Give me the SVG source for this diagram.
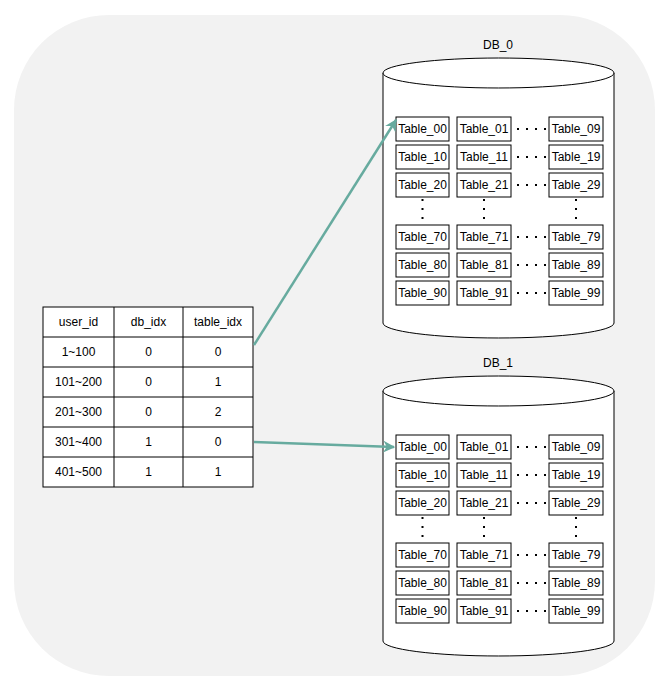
<svg xmlns="http://www.w3.org/2000/svg" width="668" height="691" viewBox="0 0 668 691">
<style>
text{font-family:"Liberation Sans",Arial,Helvetica,sans-serif;font-size:12px;fill:#000;text-anchor:middle;dominant-baseline:central}
.tb rect{fill:#fff;stroke:#000;stroke-width:1}
.tb text{font-size:12px}
.cyl{fill:#fff;stroke:#000;stroke-width:1}
.dot{stroke:#000;stroke-width:2;stroke-dasharray:2 7;fill:none}
.grid line{stroke:#000;stroke-width:1}
.conn{stroke:#67AB9F;stroke-width:2.5;fill:none;marker-end:url(#arr)}
</style>
<defs>
<marker id="arr" viewBox="0 0 10 10" refX="9" refY="5" markerWidth="12" markerHeight="12" markerUnits="userSpaceOnUse" orient="auto">
<path d="M0,0 L10,5 L0,10 L3,5 Z" fill="#67AB9F"/>
</marker>
<g id="tables">
<g class="tb">
<rect x="396" y="117" width="53" height="24"/><text x="422.5" y="129">Table_00</text>
<rect x="457" y="117" width="54" height="24"/><text x="484" y="129">Table_01</text>
<rect x="549" y="117" width="54" height="24"/><text x="576" y="129">Table_09</text>
<rect x="396" y="145" width="53" height="24"/><text x="422.5" y="157">Table_10</text>
<rect x="457" y="145" width="54" height="24"/><text x="484" y="157">Table_11</text>
<rect x="549" y="145" width="54" height="24"/><text x="576" y="157">Table_19</text>
<rect x="396" y="173" width="53" height="24"/><text x="422.5" y="185">Table_20</text>
<rect x="457" y="173" width="54" height="24"/><text x="484" y="185">Table_21</text>
<rect x="549" y="173" width="54" height="24"/><text x="576" y="185">Table_29</text>
<rect x="396" y="225" width="53" height="24"/><text x="422.5" y="237">Table_70</text>
<rect x="457" y="225" width="54" height="24"/><text x="484" y="237">Table_71</text>
<rect x="549" y="225" width="54" height="24"/><text x="576" y="237">Table_79</text>
<rect x="396" y="253" width="53" height="24"/><text x="422.5" y="265">Table_80</text>
<rect x="457" y="253" width="54" height="24"/><text x="484" y="265">Table_81</text>
<rect x="549" y="253" width="54" height="24"/><text x="576" y="265">Table_89</text>
<rect x="396" y="281" width="53" height="24"/><text x="422.5" y="293">Table_90</text>
<rect x="457" y="281" width="54" height="24"/><text x="484" y="293">Table_91</text>
<rect x="549" y="281" width="54" height="24"/><text x="576" y="293">Table_99</text>
</g>
<path class="dot" d="M517,129H549M517,157H549M517,185H549M517,237H549M517,265H549M517,293H549M422.5,199V225M484,199V225M576,199V225"/>
</g>
</defs>
<g id="background">
<rect x="14" y="15" width="641" height="661" rx="95" ry="95" fill="#f2f2f2"/>
</g>
<g id="db0">
<path class="cyl" d="M383,73 A115.5,15 0 0 1 614,73 L614,323 A115.5,15 0 0 1 383,323 Z"/>
<path class="cyl" d="M383,73 A115.5,15 0 0 0 614,73" fill="none"/>
<text x="498" y="45">DB_0</text>
<use href="#tables"/>
</g>
<g id="db1">
<path class="cyl" d="M383,391 A115.5,15 0 0 1 614,391 L614,641 A115.5,15 0 0 1 383,641 Z"/>
<path class="cyl" d="M383,391 A115.5,15 0 0 0 614,391" fill="none"/>
<text x="498" y="363">DB_1</text>
<use href="#tables" y="318"/>
</g>
<g id="mapping-table">
<rect x="43" y="307" width="210" height="180" fill="#fff" stroke="#000"/>
<g class="grid">
<line x1="114" y1="307" x2="114" y2="487"/>
<line x1="183" y1="307" x2="183" y2="487"/>
<line x1="43" y1="337" x2="253" y2="337"/>
<line x1="43" y1="367" x2="253" y2="367"/>
<line x1="43" y1="397" x2="253" y2="397"/>
<line x1="43" y1="427" x2="253" y2="427"/>
<line x1="43" y1="457" x2="253" y2="457"/>
</g>
<text x="78.5" y="322">user_id</text><text x="148.5" y="322">db_idx</text><text x="218" y="322">table_idx</text>
<text x="78.5" y="352">1~100</text><text x="148.5" y="352">0</text><text x="218" y="352">0</text>
<text x="78.5" y="382">101~200</text><text x="148.5" y="382">0</text><text x="218" y="382">1</text>
<text x="78.5" y="412">201~300</text><text x="148.5" y="412">0</text><text x="218" y="412">2</text>
<text x="78.5" y="442">301~400</text><text x="148.5" y="442">1</text><text x="218" y="442">0</text>
<text x="78.5" y="472">401~500</text><text x="148.5" y="472">1</text><text x="218" y="472">1</text>
</g>
<g id="connectors">
<path class="conn" d="M254,345 L396,120"/>
<path class="conn" d="M254,442 L394,447"/>
</g>
</svg>
